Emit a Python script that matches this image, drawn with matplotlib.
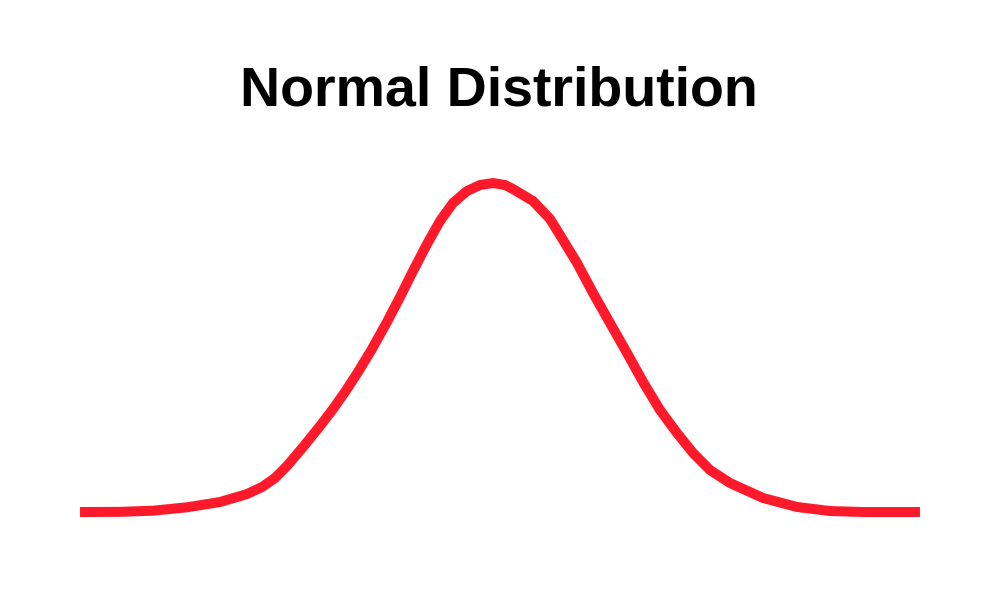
import matplotlib
matplotlib.use("Agg")
import matplotlib.pyplot as plt

# points: x in sigma units, y as density
z = [-3.796, -3.426, -3.120, -2.806, -2.500, -2.250, -2.111, -1.991, -1.880, -1.731,
     -1.574, -1.454, -1.343, -1.222, -1.093, -0.954, -0.833, -0.713, -0.583, -0.463,
     -0.343, -0.213, -0.093, 0.028, 0.139, 0.213, 0.398, 0.556, 0.676, 0.806,
     0.954, 1.111, 1.269, 1.417, 1.574, 1.731, 1.880, 2.037, 2.222, 2.528,
     2.843, 3.148, 3.454, 3.981]
density = [0.0000, 0.0002, 0.0016, 0.0057, 0.0121, 0.0218, 0.0303, 0.0412, 0.0558, 0.0788,
           0.1043, 0.1249, 0.1455, 0.1698, 0.1977, 0.2304, 0.2608, 0.2923, 0.3250, 0.3529,
           0.3748, 0.3893, 0.3966, 0.3990, 0.3966, 0.3917, 0.3772, 0.3554, 0.3299, 0.3020,
           0.2656, 0.2292, 0.1928, 0.1577, 0.1237, 0.0958, 0.0716, 0.0509, 0.0352, 0.0170,
           0.0061, 0.0012, 0.0000, 0.0000]

title = "Normal Distribution"

fig = plt.figure(figsize=(10, 5.99), dpi=100)
ax = fig.add_axes([0, 0, 1, 1])
ax.plot(z, density, color="#ff1a2b", linewidth=7.2,
        solid_joinstyle="round", solid_capstyle="butt")
ax.set_xlim(-4.537, 4.722)
ax.set_ylim(-0.1055, 0.621)
ax.axis("off")

fig.text(0.499, 0.8247, title, ha="center", va="baseline",
         fontsize=40, fontweight="bold", family="Liberation Sans")

fig.savefig("out.png", dpi=100, facecolor="white")
